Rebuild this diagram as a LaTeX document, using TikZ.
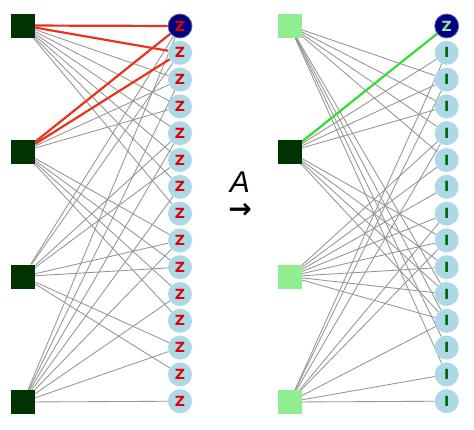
\documentclass[tikz,border=0pt]{standalone}
\usepackage{fontspec}
\usetikzlibrary{backgrounds}
\newfontfamily\lblfont{DejaVu Sans}
\newfontfamily\afont{Liberation Sans}
\definecolor{darksq}{HTML}{003300}
\definecolor{lightsq}{HTML}{90EE90}
\definecolor{qcirc}{HTML}{ADD8E6}
\definecolor{qdark}{HTML}{000080}
\definecolor{edgegray}{HTML}{949494}
\definecolor{edgered}{HTML}{E8341C}
\definecolor{edgegreen}{HTML}{33DD33}
\definecolor{zred}{HTML}{E00000}
\definecolor{idark}{HTML}{006400}
\tikzset{
  dsq/.style={rectangle,fill=darksq,minimum size=24pt,inner sep=0pt},
  lsq/.style={rectangle,fill=lightsq,minimum size=24pt,inner sep=0pt},
  qc/.style={circle,fill=qcirc,minimum size=24pt,inner sep=0pt,font=\lblfont\bfseries\fontsize{14}{14}\selectfont},
  qd/.style={circle,fill=qdark,draw=qcirc!50!qdark,line width=0.8pt,minimum size=24pt,inner sep=0pt,font=\lblfont\bfseries\fontsize{14}{14}\selectfont},
  gedge/.style={draw=edgegray,line width=0.85pt},
  redge/.style={draw=edgered,line width=2.2pt},
  grnedge/.style={draw=edgegreen,line width=2.2pt},
  optext/.style={inner sep=0pt},
}
\begin{document}
\begin{tikzpicture}[x=1pt,y=-1pt]
\useasboundingbox (0,0) rectangle (474,429);
% check nodes
\node[dsq] (L1) at (23,25.5) {};
\node[dsq] (L2) at (23,151.5) {};
\node[dsq] (L3) at (23,276.5) {};
\node[dsq] (L4) at (23,402) {};
\node[lsq] (R1) at (289.5,25.5) {};
\node[dsq] (R2) at (289.5,151.5) {};
\node[lsq] (R3) at (289.5,276.5) {};
\node[lsq] (R4) at (289.5,402) {};
% qubit nodes
\node[qd,text=zred] (Lq0) at (180,26) {Z};
\node[qd,text=lightsq] (Rq0) at (446.7,26) {Z};
\foreach \k in {1,...,14} {
  \node[qc,text=zred] (Lq\k) at (180,26+26.8*\k) {Z};
  \node[qc,text=idark] (Rq\k) at (446.7,26+26.8*\k) {I};
}
% operator
\node[optext] (Alab) at (240,182) {\afont\itshape\fontsize{30}{30}\selectfont A};
\node[optext] (Aarr) at (240,211) {\lblfont\bfseries\fontsize{28}{28}\selectfont →};
\begin{scope}[on background layer]
\fill[white] (0,0) rectangle (474,429);
\foreach \k in {2,3,4,5,6,7} \draw[gedge] (L1) -- (Lq\k);
\foreach \k in {2,3,8,9,10,11} \draw[gedge] (L2) -- (Lq\k);
\foreach \k in {0,1,4,5,8,9,12,13} \draw[gedge] (L3) -- (Lq\k);
\foreach \k in {0,2,4,6,8,10,12,14} \draw[gedge] (L4) -- (Lq\k);
\foreach \k in {2,3,4,5,10,11,12,13} \draw[gedge] (R1) -- (Rq\k);
\foreach \k in {1,2,3,8,9,10,11} \draw[gedge] (R2) -- (Rq\k);
\foreach \k in {4,5,6,7,8,9,10,11} \draw[gedge] (R3) -- (Rq\k);
\foreach \k in {1,2,4,7,8,11,13,14} \draw[gedge] (R4) -- (Rq\k);
\draw[redge] (L1) -- (Lq0);
\draw[redge] (L1) -- (Lq1);
\draw[redge] (L2) -- (Lq0);
\draw[redge] (L2) -- (Lq1);
\draw[grnedge] (R2) -- (Rq0);
\end{scope}
\end{tikzpicture}
\end{document}
